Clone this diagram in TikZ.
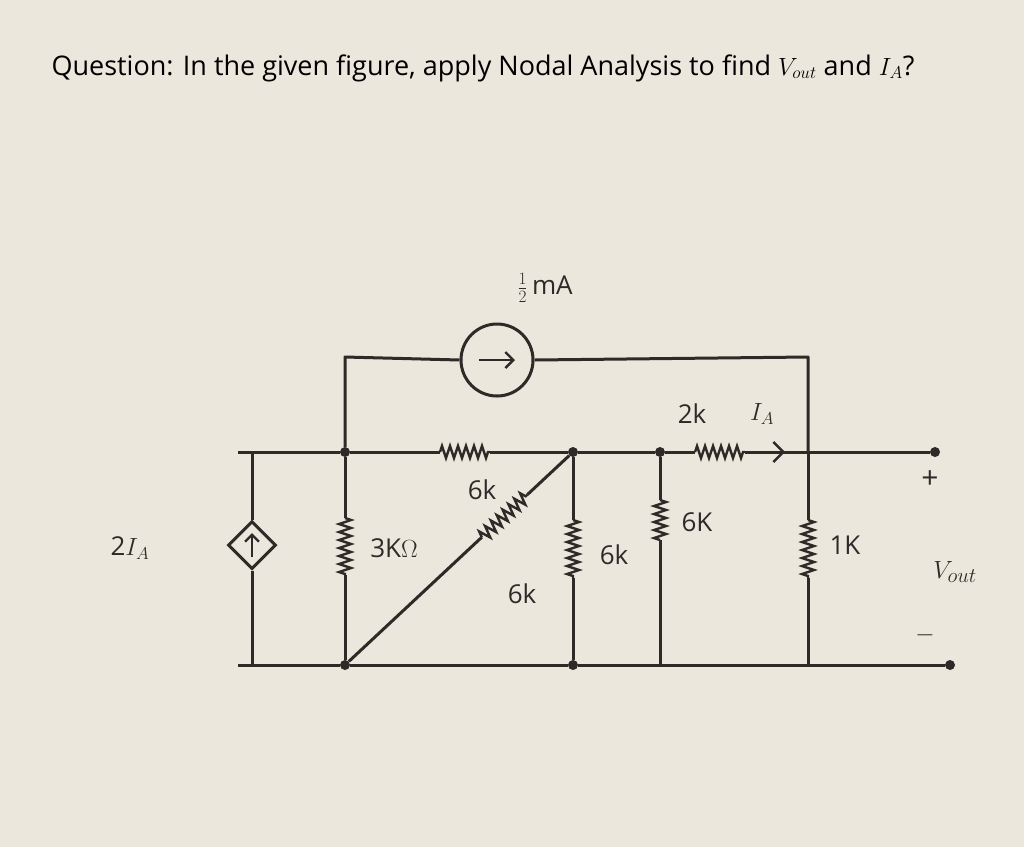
\documentclass[tikz,border=0pt]{standalone}
\usepackage{fontspec}
\setmainfont{Open Sans}
\usetikzlibrary{calc,decorations.pathmorphing,arrows.meta,shapes.geometric}
\definecolor{paper}{RGB}{236,231,221}
\definecolor{ink}{RGB}{45,42,40}
\begin{document}
\begin{tikzpicture}[x=1pt,y=-1pt,
  wire/.style={draw=ink,line width=3pt,line join=round},
  res/.style={draw=ink,line width=2.4pt,decorate,decoration={zigzag,segment length=8,amplitude=6}},
  dot/.style={circle,fill=ink,inner sep=0pt,minimum size=10pt},
  lbl/.style={text=ink,font=\fontsize{26}{28}\selectfont}]
\fill[paper] (0,0) rectangle (1024,847);
\useasboundingbox (0,0) rectangle (1024,847);
\node[anchor=west,text=black,font=\fontsize{27}{30}\selectfont] (title) at (48,68)
  {Question: In the given figure, apply Nodal Analysis to find $V_{out}$ and $I_A$?};
% coordinates
\coordinate (tl) at (238,452); \coordinate (bl) at (238,665);
\node[dot] (n1) at (345,452) {}; \node[dot] (b1) at (345,665) {};
\node[dot] (n2) at (573,452) {}; \node[dot] (b2) at (573,665) {};
\node[dot] (n3) at (660,452) {}; \coordinate (b3) at (660,665);
\coordinate (n4) at (808,452); \coordinate (b4) at (808,665);
\node[dot] (tp) at (935,452) {}; \node[dot] (bp) at (950,665) {};
\coordinate (u1) at (345,357); \coordinate (u2) at (808,357);
% current source
\node[draw=ink,line width=3pt,circle,minimum size=72pt,inner sep=0pt] (cs) at (497,360) {};
\draw[ink,line width=2.4pt,-{Straight Barb[length=8pt]}] ($(cs.center)+(-18,0)$) -- ($(cs.center)+(18,0)$);
\draw[wire] (n1) -- (u1) -- (cs.west);
\draw[wire] (cs.east) -- (u2) -- (n4);
% dependent source
\node[draw=ink,line width=3pt,diamond,minimum size=48pt,inner sep=0pt,shape aspect=1] (ds) at (252,545) {};
\draw[ink,line width=2.4pt,-{Straight Barb[length=7pt]}] ($(ds.center)+(0,12)$) -- ($(ds.center)+(0,-12)$);
\draw[wire] (tl) -- (252,452) -- (ds.north);
\draw[wire] (ds.south) -- (252,665) -- (bl);
% top rail
\draw[wire] (252,452) -- (n1) -- (440,452);
\draw[res] (440,452) -- (490,452);
\draw[wire] (490,452) -- (n2) -- (n3) -- (695,452);
\draw[res] (695,452) -- (745,452);
\draw[wire] (745,452) -- (n4) -- (tp);
\draw[ink,line width=2.4pt,-{Straight Barb[length=10pt]}] (745,452) -- (785,452);
% bottom rail
\draw[wire] (252,665) -- (b1) -- (b2) -- (b3) -- (b4) -- (bp);
% verticals
\draw[wire] (n1) -- (345,518); \draw[res] (345,518) -- (345,575); \draw[wire] (345,575) -- (b1);
\draw[wire] (n2) -- (573,520); \draw[res] (573,520) -- (573,578); \draw[wire] (573,578) -- (b2);
\draw[wire] (n3) -- (660,500); \draw[res] (660,500) -- (660,540); \draw[wire] (660,540) -- (b3);
\draw[wire] (n4) -- (808,520); \draw[res] (808,520) -- (808,578); \draw[wire] (808,578) -- (b4);
% diagonal
\draw[wire] (b1) -- ($(b1)!0.6!(n2)$);
\draw[res] ($(b1)!0.6!(n2)$) -- ($(b1)!0.8!(n2)$);
\draw[wire] ($(b1)!0.8!(n2)$) -- (n2);
% labels
\node[lbl] (l1) at (545,288) {$\frac{1}{2}$\,mA};
\node[lbl] (l2) at (482,490) {6k};
\node[lbl] (l3) at (394,548) {3K$\Omega$};
\node[lbl] (l4) at (522,594) {6k};
\node[lbl] (l5) at (614,555) {6k};
\node[lbl] (l6) at (697,522) {6K};
\node[lbl] (l7) at (692,414) {2k};
\node[lbl] (l8) at (762,414) {$I_A$};
\node[lbl] (l9) at (845,545) {1K};
\node[lbl] (l10) at (130,548) {2$I_A$};
\node[lbl,font=\fontsize{30}{32}\selectfont] (l11) at (930,480) {+};
\node[lbl,font=\fontsize{30}{32}\selectfont] (l12) at (955,572) {$V_{out}$};
\node[lbl,font=\fontsize{30}{32}\selectfont] (l13) at (925,635) {$-$};
\end{tikzpicture}
\end{document}
